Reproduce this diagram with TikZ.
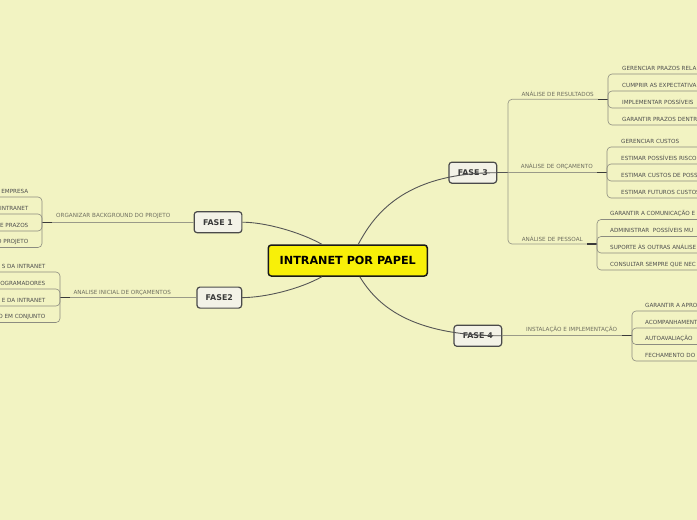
\documentclass[tikz,border=0pt]{standalone}
\usepackage{fontspec}
\setmainfont{DejaVu Sans}
\definecolor{bg}{HTML}{F2F3C2}
\definecolor{cyellow}{HTML}{F8F008}
\definecolor{ffill}{HTML}{F3F2E7}
\definecolor{fborder}{HTML}{4A4A4A}
\definecolor{ftext}{HTML}{3A3A3A}
\definecolor{mline}{HTML}{555555}
\definecolor{sline}{HTML}{9A9A88}
\definecolor{dline}{HTML}{3A3A3A}
\definecolor{lline}{HTML}{8C8C80}
\definecolor{subtext}{HTML}{6F6F60}
\definecolor{leaftext}{HTML}{4E4E4E}
\begin{document}
\begin{tikzpicture}[x=1pt,y=-1pt,
  central/.style={draw=black!90, line width=1.5pt, fill=cyellow, rounded corners=3pt,
    minimum width=159pt, minimum height=31pt, inner sep=0pt,
    font=\fontsize{11.2}{13}\selectfont\bfseries},
  fase/.style={draw=fborder, line width=1.2pt, fill=ffill, rounded corners=3pt,
    minimum height=21pt, inner sep=0pt, text=ftext,
    font=\fontsize{7.9}{9}\selectfont\bfseries},
  sub/.style={font=\fontsize{5.65}{6}\selectfont, text=subtext, inner sep=0pt},
  leaf/.style={font=\fontsize{5.65}{6}\selectfont, text=leaftext, inner sep=0pt},
  mainline/.style={draw=mline, line width=0.9pt},
  subline/.style={draw=sline, line width=0.7pt},
  darkseg/.style={draw=dline, line width=1.3pt},
  leafline/.style={draw=lline, line width=0.6pt, rounded corners=4pt}]
\path[use as bounding box, fill=bg] (0,0) rectangle (697,520);
\clip (0,0) rectangle (697,520);

% main nodes
\node[central] (root) at (347.8,260.5) {INTRANET POR PAPEL};
\node[fase, minimum width=47.7pt] (f1) at (218,222.2) {FASE 1};
\node[fase, minimum width=44.7pt] (f2) at (219.3,297.6) {FASE2};
\node[fase, minimum width=47.7pt] (f3) at (472.8,172.7) {FASE 3};
\node[fase, minimum width=47.7pt] (f4) at (477.8,335.8) {FASE 4};

% curves from the root
\draw[mainline] ([xshift=-26pt]root.north) .. controls (300,232) and (265,222.2) .. (f1.east);
\draw[mainline] ([xshift=-26pt]root.south) .. controls (300,289) and (265,297.6) .. (f2.east);
\draw[mainline] ([xshift=10.5pt]root.north) .. controls (373,217) and (402,172.7) .. (f3.east);
\draw[mainline] ([xshift=12pt]root.south) .. controls (377,305) and (410,335.8) .. (f4.east);

% bracket coordinates
\coordinate (b1) at (42,222.2);
\coordinate (b2) at (60,297.6);
\coordinate (v3) at (508,172.7);
\coordinate (ja) at (608,99.3);
\coordinate (jb) at (607,172.7);
\coordinate (jc) at (597,244);
\coordinate (jd) at (632,335.8);

% FASE 1 branch
\node[sub, anchor=base west] (s1) at (56,217.8) {ORGANIZAR BACKGROUND DO PROJETO};
\draw[subline] (f1.west) -- ([xshift=10pt]b1);
\draw[darkseg] ([xshift=10pt]b1) -- (b1);
\foreach \t/\y [count=\i] in {EMPRESA/197, INTRANET/214, E PRAZOS/231, O PROJETO/247.5}{
  \node[leaf, anchor=base east] (la\i) at (28.5,\y-4) {\t};
  \draw[leafline] (b1) |- ([yshift=-4pt]la\i.base east) -- ++(-40,0);
}

% FASE 2 branch
\node[sub, anchor=base west] (s2) at (73.3,294.3) {ANALISE INICIAL DE ORÇAMENTOS};
\draw[subline] (f2.west) -- ([xshift=10pt]b2);
\draw[darkseg] ([xshift=10pt]b2) -- (b2);
\foreach \t/\y [count=\i] in {S DA INTRANET/272, OGRAMADORES/289, E DA INTRANET/306, O EM CONJUNTO/322.5}{
  \node[leaf, anchor=base east] (lb\i) at (45.5,\y-4) {\t};
  \draw[leafline] (b2) |- ([yshift=-4pt]lb\i.base east) -- ++(-60,0);
}

% FASE 3 branch
\draw[mainline] (f3.east) -- (v3);
\draw[subline, rounded corners=4pt] (v3) |- ([xshift=-10pt]ja);
\draw[subline] (v3) -- ([xshift=-10pt]jb);
\draw[subline, rounded corners=4pt] (v3) |- ([xshift=-10pt]jc);
\draw[darkseg] ([xshift=-10pt]ja) -- (ja);
\draw[darkseg] ([xshift=-10pt]jb) -- (jb);
\draw[darkseg] ([xshift=-10pt]jc) -- (jc);
\node[sub, anchor=base east] (s3a) at (594,96) {ANÁLISE DE RESULTADOS};
\node[sub, anchor=base east] (s3b) at (593,168.5) {ANÁLISE DE ORÇAMENTO};
\node[sub, anchor=base east] (s3c) at (583,241) {ANÁLISE DE PESSOAL};
\foreach \t/\y [count=\i] in {GERENCIAR PRAZOS RELA/74, CUMPRIR AS EXPECTATIVA/91, IMPLEMENTAR POSSÍVEIS/108, GARANTIR PRAZOS DENTR/125}{
  \node[leaf, anchor=base west] (lc\i) at (622,\y-4) {\t};
  \draw[leafline] (ja) |- ([yshift=-4pt]lc\i.base west) -- ++(100,0);
}
\foreach \t/\y [count=\i] in {GERENCIAR CUSTOS/147, ESTIMAR POSSÍVEIS RISCO/164, ESTIMAR CUSTOS DE POSS/181, ESTIMAR FUTUROS CUSTOS/198}{
  \node[leaf, anchor=base west] (ld\i) at (621,\y-4) {\t};
  \draw[leafline] (jb) |- ([yshift=-4pt]ld\i.base west) -- ++(100,0);
}
\foreach \t/\y [count=\i] in {GARANTIR A COMUNICAÇÃO E/219.5, ADMINISTRAR~ POSSÍVEIS MU/236.5, SUPORTE ÀS OUTRAS ANÁLISE/253, CONSULTAR SEMPRE QUE NEC/270}{
  \node[leaf, anchor=base west] (le\i) at (610,\y-4) {\t};
  \draw[leafline] (jc) |- ([yshift=-4pt]le\i.base west) -- ++(110,0);
}

% FASE 4 branch
\node[sub, anchor=base east] (s4) at (617.3,331.5) {INSTALAÇÃO E IMPLEMENTAÇÃO};
\draw[subline] (f4.east) -- ([xshift=-10pt]jd);
\draw[darkseg] ([xshift=-10pt]jd) -- (jd);
\foreach \t/\y [count=\i] in {GARANTIR A APRO/311, ACOMPANHAMENTO/328, AUTOAVALIAÇÃO/344.5, FECHAMENTO DO/361}{
  \node[leaf, anchor=base west] (lf\i) at (645,\y-4) {\t};
  \draw[leafline] (jd) |- ([yshift=-4pt]lf\i.base west) -- ++(80,0);
}
\end{tikzpicture}
\end{document}
